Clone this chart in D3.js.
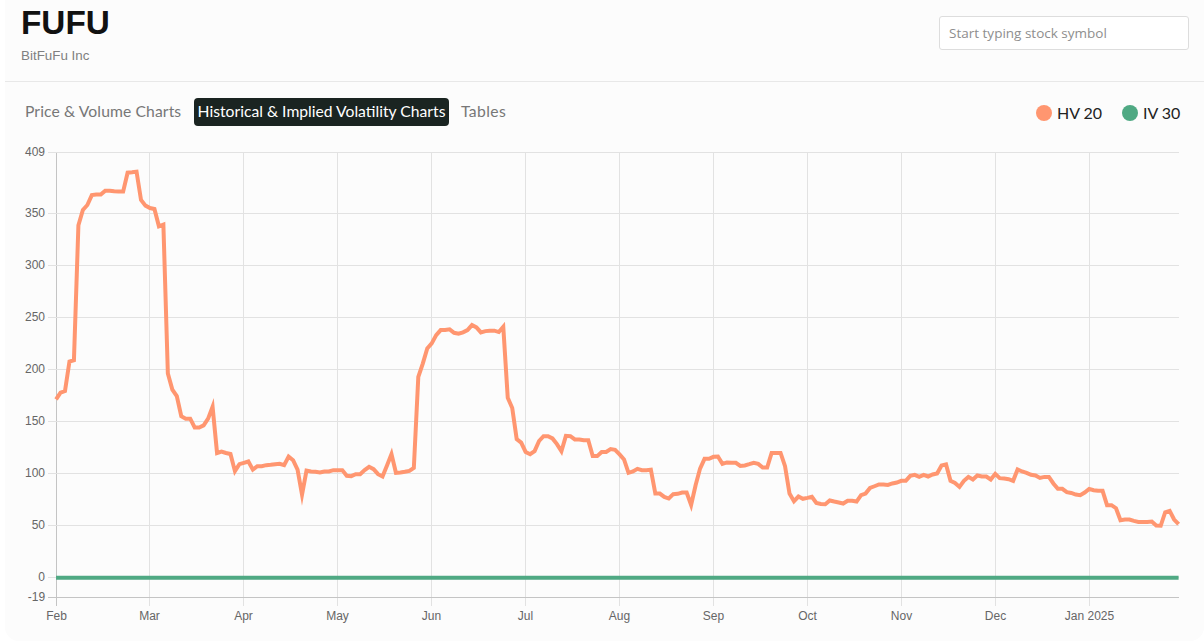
<!DOCTYPE html>
<html>
<head>
<meta charset="utf-8">
<script src="https://cdn.jsdelivr.net/npm/d3@7"></script>
<style>
  html, body { margin: 0; padding: 0; background: #fff; }
  body { width: 1204px; height: 641px; overflow: hidden; position: relative; }
  #card { position: absolute; left: 5px; top: -20px; width: 1199px; height: 661px; background: #fcfcfc; border-radius: 14px; }
  #rule { position: absolute; left: 5px; top: 81px; width: 1199px; height: 1px; background: #e8e8e8; }
  #symbol { position: absolute; left: 21px; top: 4px; font: bold 33.3px "Liberation Sans", sans-serif; color: #111; }
  #company { position: absolute; left: 21px; top: 48px; font: 13.4px "Liberation Sans", sans-serif; color: #808080; }
  #search { position: absolute; left: 939px; top: 16px; width: 248px; height: 32px; border: 1px solid #ddd; border-radius: 3px; background: #fff;
            font: 13.5px "Open Sans", sans-serif; color: #8e8e8e; line-height: 32px; text-indent: 9px; }
  .tab { position: absolute; top: 97px; height: 28px; font: 15.7px/28px Lato, sans-serif; color: #777; white-space: nowrap; }
  .tab.on { top: 98px; height: 28px; line-height: 27px; background: #1a2421; color: #fff; border-radius: 4px; text-align: center; }
  .key { position: absolute; top: 105px; width: 16px; height: 16px; border-radius: 50%; }
  .keytext { position: absolute; top: 103px; font: 16px/20px Lato, sans-serif; color: #222; }
  svg { position: absolute; left: 0; top: 0; }
  .tick text { font: 12px "Liberation Sans", sans-serif; fill: #666; }
  .tick line { shape-rendering: crispEdges; }
</style>
</head>
<body>
<div id="card"></div>
<div id="rule"></div>
<div id="symbol">FUFU</div>
<div id="company">BitFuFu Inc</div>
<div id="search">Start typing stock symbol</div>
<div class="tab" style="left:25px;letter-spacing:.1px">Price &amp; Volume Charts</div>
<div class="tab on" style="left:194px;width:255px">Historical &amp; Implied Volatility Charts</div>
<div class="tab" style="left:461px;letter-spacing:.4px">Tables</div>
<div class="key" style="left:1036px;background:#ff9670"></div>
<div class="keytext" style="left:1057px">HV 20</div>
<div class="key" style="left:1122px;background:#4fa983"></div>
<div class="keytext" style="left:1143px">IV 30</div>
<svg id="chart" width="1204" height="641"></svg>
<script>
// one value per trading day
var hv20 = [
  171.5, 178, 179.5, 208, 209.3, 339, 353.7, 358.5, 368, 368.5, 368.5, 372.3, 372.3, 371.7, 371.4, 371.4, 389.6, 390, 390.6, 363.3, 357.9,
  355.6, 354.7, 338, 339.6, 196.5, 181, 174.7, 155.4, 153, 153, 144.5, 144.5, 146.5, 153, 164.4, 120, 121.4, 120, 119, 102.5, 109.2,
  110.5, 111.8, 104, 107.3, 107.3, 108.3, 108.6, 109.2, 109.6, 108.3, 116.6, 113, 104, 80, 103, 102.2, 101.9, 101.2, 102.2, 102.2, 103.5,
  103.5, 103.5, 98, 97.7, 99.6, 99.6, 103.5, 106.7, 104.4, 99.6, 97.4, 108, 118.9, 100.9, 101.2, 101.9, 102.8, 105.7, 193.3, 206, 220.6,
  225.4, 233.4, 238.2, 238.2, 238.9, 235.6, 234.7, 236, 238.2, 243, 240.8, 236, 237.2, 237.6, 237.6, 236.3, 241.4, 173, 163.3, 133.3, 130,
  121, 118.8, 121.8, 131.5, 136.2, 136.2, 134, 128.5, 121.7, 136.5, 136.2, 133, 133, 132.3, 132.3, 117, 117, 121, 121, 123.7, 123,
  118.6, 113.8, 100.9, 102.2, 104.7, 103.5, 103.5, 104, 81, 81, 77.8, 76.2, 80.4, 80.7, 82, 82, 70, 89, 105, 114.4, 114.4,
  116.3, 116.6, 109.5, 110.9, 110.6, 110.6, 107.6, 108, 109.2, 110.6, 109.5, 106, 106, 120, 120, 120, 107.3, 81, 73.6, 78.1, 75.9, 76.8,
  77.8, 72, 71, 70.7, 74.3, 73.3, 72.4, 71.4, 74, 74, 73.3, 79.4, 81, 86.4, 88, 89.7, 89.7, 89.3, 90.7, 91.6, 93.2, 93.2, 98,
  99, 97, 99, 97.4, 99.3, 100.3, 108, 109, 93.2, 91.2, 87.4, 93.2, 97, 94.5, 98.4, 97.4, 97.4, 94.5, 99.9, 95.8, 95.4, 94.8, 93.2,
  104.1, 102.2, 100.9, 99, 98.4, 96, 97, 97, 90.7, 85.5, 85.5, 82.3, 81.6, 80, 79.4, 82, 85.5, 84.2, 83.6, 83.6, 69.8, 69.8, 66.9,
  55.3, 56, 56, 54.7, 53.7, 53.7, 53.7, 54, 50.2, 50, 63, 64.3, 56, 51.5
];
var monthLabels = ["Feb", "Mar", "Apr", "May", "Jun", "Jul", "Aug", "Sep", "Oct", "Nov", "Dec", "Jan 2025"];
var yTicks = [409, 350, 300, 250, 200, 150, 100, 50, 0, -19];
var labelEvery = 21;

var plot = { left: 56.05, right: 1178.6, top: 152.5, bottom: 597.5 };
var svg = d3.select("#chart");

var days = d3.range(hv20.length);
var iv30 = days.map(function(){ return 0; });

var x = d3.scalePoint().domain(days).range([plot.left, plot.right]);
var y = d3.scaleLinear().domain([-19, 409]).range([plot.bottom, plot.top]);

var xAxis = d3.axisBottom(x)
  .offset(0)
  .tickValues(monthLabels.map(function(m, i){ return i * labelEvery; }))
  .tickFormat(function(d){ return monthLabels[d / labelEvery]; })
  .tickSize(-(plot.bottom - plot.top))
  .tickPadding(14);

var yAxis = d3.axisLeft(y)
  .offset(0)
  .tickValues(yTicks)
  .tickFormat(function(d){ return String(d); })
  .tickSize(-(plot.right - plot.left))
  .tickPadding(11);

var gx = svg.append("g").attr("transform", "translate(0," + plot.bottom + ")").call(xAxis);
var gy = svg.append("g").attr("transform", "translate(" + plot.left + ",0)").call(yAxis);

gx.select(".domain").remove();
gy.select(".domain").remove();
// snap the month ticks to whole pixel columns
gx.selectAll(".tick").attr("transform", function(d){ return "translate(" + (Math.floor(x(d)) + 0.5) + ",0)"; });
gx.selectAll(".tick line").attr("y2", -(plot.bottom - plot.top)).attr("y1", 8).attr("stroke", "#e2e2e2");
gy.selectAll(".tick line").attr("x1", -8).attr("stroke", "#e2e2e2");
gy.selectAll(".tick text").attr("dy", "0.26em");
// axis edges are a bit darker than the grid
gx.selectAll(".tick line").filter(function(d){ return d === 0; }).attr("stroke", "#c4c4c4");
gy.selectAll(".tick line").filter(function(d){ return d === -19; }).attr("stroke", "#c4c4c4");

var line = d3.line()
  .x(function(d, i){ return x(i); })
  .y(function(d){ return y(d); });

svg.append("path").datum(iv30)
  .attr("d", line)
  .attr("fill", "none")
  .attr("stroke", "#4fa983")
  .attr("stroke-width", 4);

svg.append("path").datum(hv20)
  .attr("d", line)
  .attr("fill", "none")
  .attr("stroke", "#ff9670")
  .attr("stroke-width", 4)
  .attr("stroke-linejoin", "miter")
  .attr("stroke-miterlimit", 10);
</script>
</body>
</html>
